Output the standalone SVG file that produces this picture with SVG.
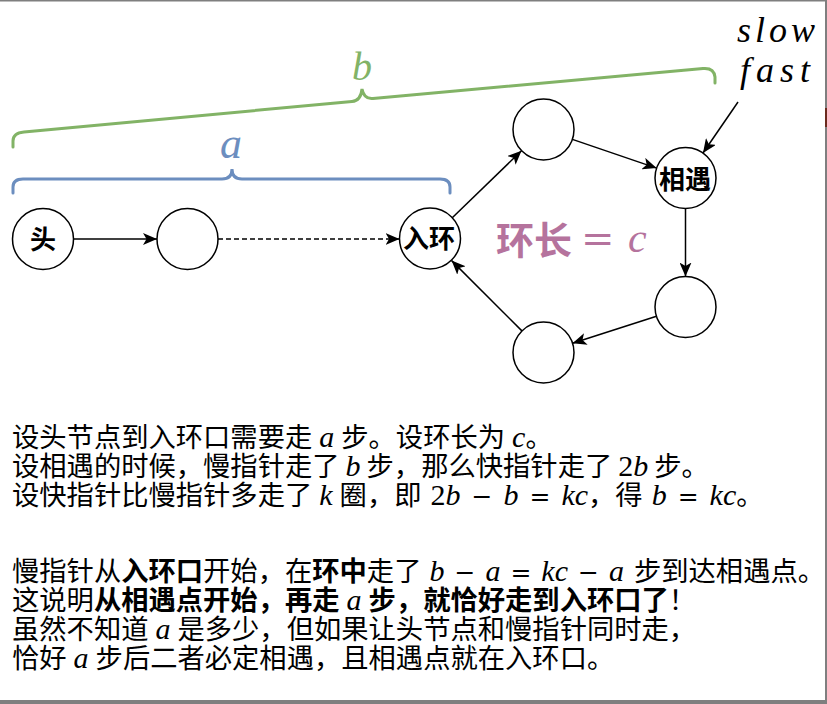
<svg xmlns="http://www.w3.org/2000/svg" width="827" height="704" viewBox="0 0 827 704">
<style>
.node{fill:#fff;stroke:#000;stroke-width:1.5}
.lbl{font-family:"Noto Sans CJK SC","Noto Sans",sans-serif;font-weight:bold;font-size:26px;fill:#000;text-anchor:middle}
.edge{stroke:#000;stroke-width:1.5;fill:none}
.t{font-family:"Noto Sans CJK SC","Noto Sans",sans-serif;font-size:27.3px;fill:#000}
.m{font-family:"Liberation Serif",serif;font-style:italic;font-size:30px}
.d{font-family:"Liberation Serif",serif;font-style:normal;font-size:30px}
.op{font-family:"DejaVu Serif",serif;font-style:normal;font-size:25px}
.bd{font-weight:bold}
.mi{font-family:"Liberation Serif",serif;font-style:italic}
</style>
<defs>
<marker id="arr" markerUnits="userSpaceOnUse" markerWidth="15" markerHeight="12" viewBox="0 0 15 12" refX="14" refY="6" orient="auto">
<path d="M0,0 L14,6 L0,12 L3.5,6 Z" fill="#000"/>
</marker>
</defs>
<rect x="0" y="0" width="827" height="704" fill="#fff"/>
<g id="frame" fill="#7f7f7f">
<rect x="0" y="0" width="827" height="1.5"/>
<rect x="825" y="0" width="2" height="704"/>
<rect x="0" y="700" width="827" height="4"/>
<rect x="825" y="108" width="2" height="19" fill="#6b2a1e"/>
</g>
<g id="braces" fill="none" stroke-width="3" stroke-linecap="round">
<path id="brace-b" stroke="#82b366" d="M13 147 L13 141 Q13 133 24 132 L352 101.5 Q361 100.5 362 89 Q364 99.5 373 98.5 L703 68.5 Q714 67.5 715 77 L715 83"/>
<path id="brace-a" stroke="#6c8ebf" d="M13 193 L13 187 Q13 179 23 179 L222 179 Q232 179 232 169 Q232 179 242 179 L440 179 Q450 179 450 187 L450 193"/>
<text x="362" y="80" text-anchor="middle" class="mi" font-size="40" fill="#82b366" stroke="none">b</text>
<text x="231" y="158" text-anchor="middle" class="mi" font-size="44" fill="#6c8ebf" stroke="none">a</text>
</g>
<g id="connectors">
<line class="edge" x1="73.5" y1="239" x2="157" y2="239" marker-end="url(#arr)"/>
<line class="edge" x1="218" y1="239" x2="399.5" y2="239" stroke-dasharray="5 3" marker-end="url(#arr)"/>
<line class="edge" x1="452" y1="218" x2="521.5" y2="150.7" marker-end="url(#arr)"/>
<line class="edge" x1="572.4" y1="139.4" x2="656.6" y2="168.1" marker-end="url(#arr)"/>
<line class="edge" x1="685.5" y1="208.5" x2="685.5" y2="276.5" marker-end="url(#arr)"/>
<line class="edge" x1="656.5" y1="316.3" x2="572.5" y2="343.2" marker-end="url(#arr)"/>
<line class="edge" x1="521.9" y1="330.9" x2="451.6" y2="260.6" marker-end="url(#arr)"/>
<line class="edge" x1="738" y1="102" x2="703" y2="153" marker-end="url(#arr)"/>
</g>
<g id="n-head"><circle class="node" cx="43" cy="239" r="30.5"/><text class="lbl" x="43" y="249">头</text></g>
<g id="n-2"><circle class="node" cx="187.5" cy="239" r="30.5"/></g>
<g id="n-entry"><circle class="node" cx="430" cy="238.5" r="30.5"/><text class="lbl" x="429" y="248">入环</text></g>
<g id="n-top"><circle class="node" cx="543.5" cy="129.5" r="30.5"/></g>
<g id="n-meet"><circle class="node" cx="685.5" cy="178" r="30.5"/><text class="lbl" x="685" y="189">相遇</text></g>
<g id="n-br"><circle class="node" cx="685.5" cy="307" r="30.5"/></g>
<g id="n-bl"><circle class="node" cx="543.5" cy="352.5" r="30.5"/></g>
<g id="ptr">
<text x="737" y="42" class="mi" font-size="36" textLength="78" lengthAdjust="spacing">slow</text>
<text x="740" y="82" class="mi" font-size="36" textLength="70" lengthAdjust="spacing">fast</text>
</g>
<g id="cycle-len" fill="#b5739d">
<text x="496" y="254" font-family="Noto Sans CJK SC, sans-serif" font-weight="bold" font-size="38">环长</text>
<text x="581" y="252" font-family="DejaVu Serif, serif" font-size="40">=</text>
<text x="628" y="252" class="mi" font-size="42">c</text>
</g>
<g id="notes">
<text class="t" x="12" y="447">设头节点到入环口需要走<tspan class="m" dx="7">a</tspan><tspan dx="7">步。设环长为</tspan><tspan class="m" dx="7">c</tspan>。</text>
<text class="t" x="12" y="476">设相遇的时候，慢指针走了<tspan class="m" dx="6">b</tspan><tspan dx="6">步，那么快指针走了</tspan><tspan class="d" dx="6">2</tspan><tspan class="m">b</tspan><tspan dx="6">步。</tspan></text>
<text class="t" x="12" y="505">设快指针比慢指针多走了<tspan class="m" dx="7">k</tspan><tspan dx="7">圈，即</tspan><tspan class="d" dx="9">2</tspan><tspan class="m">b</tspan><tspan class="op" dx="11">−</tspan><tspan class="m" dx="11">b</tspan><tspan class="op" dx="11">=</tspan><tspan class="m" dx="11">kc</tspan>，得<tspan class="m" dx="9">b</tspan><tspan class="op" dx="11">=</tspan><tspan class="m" dx="11">kc</tspan>。</text>
<text class="t" x="12" y="581">慢指针从<tspan class="bd">入环口</tspan>开始，在<tspan class="bd">环中</tspan>走了<tspan class="m" dx="8">b</tspan><tspan class="op" dx="10">−</tspan><tspan class="m" dx="10">a</tspan><tspan class="op" dx="10">=</tspan><tspan class="m" dx="10">kc</tspan><tspan class="op" dx="10">−</tspan><tspan class="m" dx="10">a</tspan><tspan dx="10">步到达相遇点。</tspan></text>
<text class="t" x="12" y="610">这说明<tspan class="bd">从相遇点开始，再走</tspan><tspan class="m" dx="7">a</tspan><tspan class="bd" dx="7">步，就恰好走到入环口了</tspan>！</text>
<text class="t" x="12" y="639">虽然不知道<tspan class="m" dx="7">a</tspan><tspan dx="7">是多少，但如果让头节点和慢指针同时走，</tspan></text>
<text class="t" x="12" y="668">恰好<tspan class="m" dx="7">a</tspan><tspan dx="7">步后二者必定相遇，且相遇点就在入环口。</tspan></text>
</g>
</svg>
